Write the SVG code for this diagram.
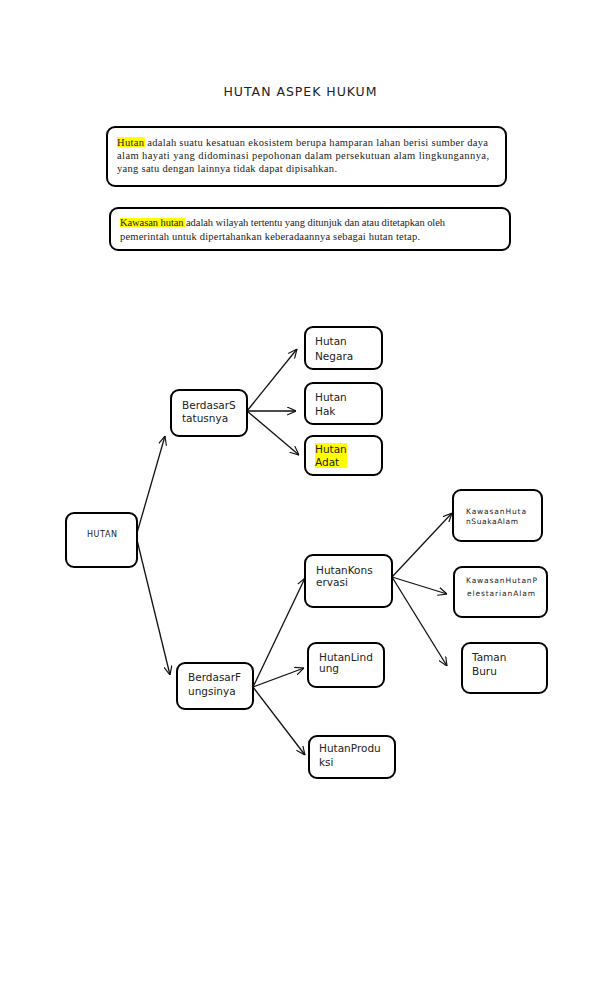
<svg xmlns="http://www.w3.org/2000/svg" width="600" height="988" viewBox="0 0 600 988">
<style>
.box{fill:#fff;stroke:#000;stroke-width:2}
.n{font-family:"DejaVu Sans",sans-serif;font-size:10.5px;fill:#222}
.s{font-family:"DejaVu Sans",sans-serif;font-size:7.5px;fill:#222}
.p{font-family:"Liberation Serif",serif;font-size:10.5px;fill:#222}
.c{fill:none;stroke:#111;stroke-width:1.3}
.hl{fill:#ffff00}
</style>
<defs>
<marker id="ah" viewBox="0 0 10 10" refX="10" refY="5" markerWidth="9" markerHeight="9" markerUnits="userSpaceOnUse" orient="auto">
<path d="M0,0.5 L10,5 L0,9.5" fill="none" stroke="#111" stroke-width="1.3"/>
</marker>
</defs>
<rect width="600" height="988" fill="#fff"/>
<text x="300" y="96" text-anchor="middle" font-family="DejaVu Sans, sans-serif" font-size="12.5" fill="#222" textLength="153">HUTAN ASPEK HUKUM</text>

<g id="def-hutan">
<rect class="box" x="107" y="127" width="399" height="59" rx="8"/>
<rect class="hl" x="117" y="137" width="28" height="10"/>
<text class="p" x="117" y="146" textLength="371">Hutan adalah suatu kesatuan ekosistem berupa hamparan lahan berisi sumber daya</text>
<text class="p" x="117" y="159" textLength="372">alam hayati yang didominasi pepohonan dalam persekutuan alam lingkungannya,</text>
<text class="p" x="117" y="172" textLength="220">yang satu dengan lainnya tidak dapat dipisahkan.</text>
</g>
<g id="def-kawasan">
<rect class="box" x="110" y="208" width="400" height="42" rx="8"/>
<rect class="hl" x="120" y="218" width="65" height="9"/>
<text class="p" x="120" y="226" textLength="325">Kawasan hutan adalah wilayah tertentu yang ditunjuk dan atau ditetapkan oleh</text>
<text class="p" x="120" y="240" textLength="300">pemerintah untuk dipertahankan keberadaannya sebagai hutan tetap.</text>
</g>

<g id="connectors">
<line class="c" x1="137" y1="533" x2="165" y2="436" marker-end="url(#ah)"/>
<line class="c" x1="137" y1="540" x2="170" y2="675" marker-end="url(#ah)"/>
<line class="c" x1="247" y1="411" x2="297" y2="349" marker-end="url(#ah)"/>
<line class="c" x1="247" y1="411" x2="296" y2="411" marker-end="url(#ah)"/>
<line class="c" x1="247" y1="411" x2="299" y2="455" marker-end="url(#ah)"/>
<line class="c" x1="253" y1="687" x2="305" y2="578" marker-end="url(#ah)"/>
<line class="c" x1="253" y1="687" x2="304" y2="668" marker-end="url(#ah)"/>
<line class="c" x1="253" y1="687" x2="305" y2="755" marker-end="url(#ah)"/>
<line class="c" x1="392" y1="577" x2="452" y2="513" marker-end="url(#ah)"/>
<line class="c" x1="392" y1="577" x2="447" y2="594" marker-end="url(#ah)"/>
<line class="c" x1="392" y1="577" x2="447" y2="666" marker-end="url(#ah)"/>
</g>

<g id="hutan">
<rect class="box" x="66" y="513" width="71" height="54" rx="8"/>
<text x="87" y="537" font-family="DejaVu Sans, sans-serif" font-size="8" fill="#222" textLength="30">HUTAN</text>
</g>
<g id="status">
<rect class="box" x="171" y="390" width="76" height="46" rx="8"/>
<text class="n" x="182" y="409">BerdasarS</text>
<text class="n" x="182" y="422">tatusnya</text>
</g>
<g id="negara">
<rect class="box" x="305" y="327" width="77" height="42" rx="8"/>
<text class="n" x="315" y="345">Hutan</text>
<text class="n" x="315" y="360">Negara</text>
</g>
<g id="hak">
<rect class="box" x="305" y="383" width="77" height="41" rx="8"/>
<text class="n" x="315" y="401">Hutan</text>
<text class="n" x="315" y="415">Hak</text>
</g>
<g id="adat">
<rect class="box" x="305" y="436" width="77" height="39" rx="8"/>
<rect class="hl" x="315" y="443" width="32" height="25"/>
<text class="n" x="315" y="453">Hutan</text>
<text class="n" x="315" y="466">Adat</text>
</g>
<g id="fungsi">
<rect class="box" x="177" y="663" width="76" height="46" rx="8"/>
<text class="n" x="188" y="681">BerdasarF</text>
<text class="n" x="188" y="695">ungsinya</text>
</g>
<g id="konservasi">
<rect class="box" x="305" y="555" width="87" height="52" rx="8"/>
<text class="n" x="316" y="574">HutanKons</text>
<text class="n" x="316" y="586">ervasi</text>
</g>
<g id="lindung">
<rect class="box" x="308" y="643" width="76" height="44" rx="8"/>
<text class="n" x="319" y="661">HutanLind</text>
<text class="n" x="319" y="672">ung</text>
</g>
<g id="produksi">
<rect class="box" x="309" y="736" width="86" height="42" rx="8"/>
<text class="n" x="319" y="752">HutanProdu</text>
<text class="n" x="319" y="766">ksi</text>
</g>
<g id="suaka">
<rect class="box" x="453" y="490" width="89" height="51" rx="8"/>
<text class="s" x="466" y="514" textLength="60">KawasanHuta</text>
<text class="s" x="466" y="524" textLength="52">nSuakaAlam</text>
</g>
<g id="pelestarian">
<rect class="box" x="454" y="567" width="93" height="50" rx="8"/>
<text class="s" x="466" y="583" textLength="71">KawasanHutanP</text>
<text class="s" x="467" y="596" textLength="68">elestarianAlam</text>
</g>
<g id="taman">
<rect class="box" x="462" y="643" width="85" height="50" rx="8"/>
<text class="n" x="472" y="661">Taman</text>
<text class="n" x="472" y="675">Buru</text>
</g>
</svg>
